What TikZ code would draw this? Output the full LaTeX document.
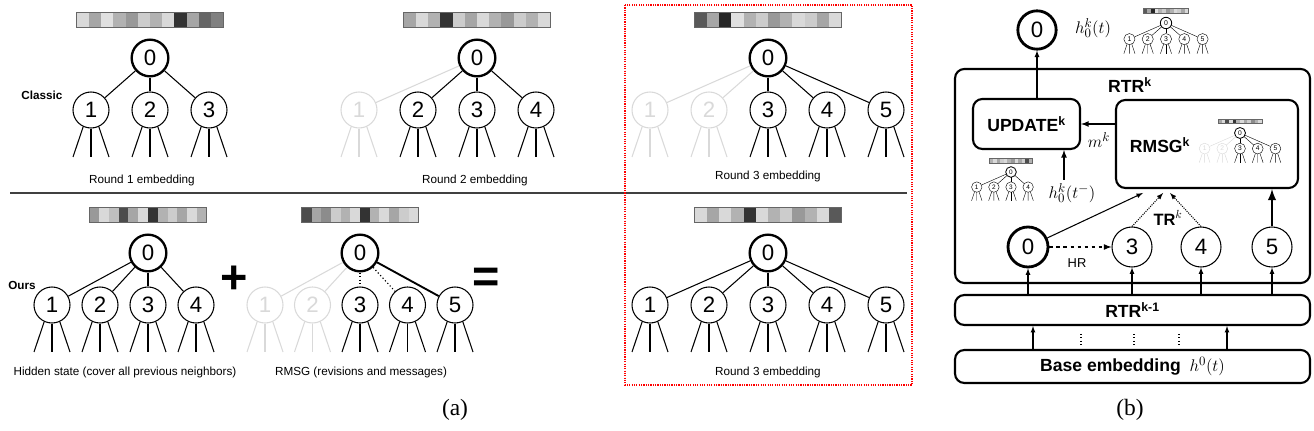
\documentclass[tikz,border=0pt]{standalone}
\usepackage{fontspec}
\setmainfont{Liberation Sans}
\newfontfamily\capfont{Liberation Serif}
\usetikzlibrary{positioning}
\tikzset{
  rootc/.style={circle, draw, line width=2pt, minimum size=1.1cm, inner sep=0pt, font=\fontsize{19}{19}\selectfont},
  childc/.style={circle, draw, line width=0.9pt, minimum size=1.08cm, inner sep=0pt, font=\fontsize{19}{19}\selectfont},
  rbox/.style={draw, rounded corners=8pt, line width=1.8pt, inner sep=0pt},
  captxt/.style={font=\fontsize{10}{12}\selectfont},
  tiny/.style={rootc/.append style={line width=0.7pt}, childc/.append style={line width=0.35pt}, line width=0.35pt},
}
% tree: name, n, faded, root index, edges, spacing, cell width, greys
\newcommand\ctree[8]{%
  \node[rootc] (#1-0) at (0,0) {0};
  \foreach \g [count=\k] in {#8}
    \fill[black!\g] ({(\k-7)*#7},-46) rectangle ++(#7,15);
  \draw[black!60, line width=0.6pt] ({-6*#7},-46) rectangle ++({12*#7},15);
  \foreach \i in {1,...,#2} {
    \pgfmathsetmacro\cx{(\i-#4)*#6}
    \ifnum\i>#3 \def\tc{black}\else\def\tc{black!15}\fi
    \node[childc, draw=\tc, text=\tc] (#1-\i) at (\cx,52) {\i};
    \draw[\tc] (#1-\i.-115) -- (\cx-18,99);
    \draw[\tc] (#1-\i.south) -- (\cx,99);
    \draw[\tc] (#1-\i.-65) -- (\cx+18,99);
    \ifnum\i>#3 \ifnum#5=1 \draw (#1-0) -- (#1-\i); \fi
    \else \draw[black!15] (#1-0) -- (#1-\i); \fi
  }
}
\begin{document}
\begin{tikzpicture}[x=0.03cm, y=-0.03cm, line width=0.9pt]
\useasboundingbox (0,0) rectangle (1314,431);
% (a) classic
\node[font=\bfseries\fontsize{10}{12}\selectfont] (classic) at (42,95) {Classic};
\begin{scope}[shift={(150,58)}]
  \ctree{ta}{3}{0}{2}{1}{59}{12.2}{15,35,12,30,40,20,30,15,80,35,60,50}
\end{scope}
\begin{scope}[shift={(477,58)}]
  \ctree{tb}{4}{1}{3}{1}{59}{12.2}{35,15,30,80,20,35,15,30,40,20,30,15}
\end{scope}
\begin{scope}[shift={(768,58)}]
  \ctree{tc}{5}{2}{3}{1}{59}{12.2}{65,35,85,12,30,20,40,30,15,20,35,15}
\end{scope}
\node[captxt] (r1) at (142,180) {Round 1 embedding};
\node[captxt] (r2) at (475,180) {Round 2 embedding};
\node[captxt] (r3) at (768,176) {Round 3 embedding};
\draw[black!75, line width=1pt] (10,193) -- (907,193);
% (a) ours
\node[font=\bfseries\fontsize{10}{12}\selectfont] (ours) at (22,285) {Ours};
\begin{scope}[shift={(148,253)}]
  \ctree{tm}{4}{0}{3}{1}{48}{9.8}{40,15,25,70,35,15,80,30,20,35,15,30}
\end{scope}
\begin{scope}[shift={(360,253)}]
  \ctree{tn}{5}{2}{3}{0}{47.5}{9.7}{70,35,45,20,30,15,80,30,15,35,20,15}
\end{scope}
\draw[dotted, line width=1pt] (tn-0) -- (tn-3);
\draw[dotted, line width=1pt] (tn-0) -- (tn-4);
\draw[line width=1.6pt] (tn-0) -- (tn-5);
\begin{scope}[shift={(768,253)}]
  \ctree{to}{5}{0}{3}{1}{59}{12.2}{15,35,15,30,80,15,30,20,40,30,15,65}
\end{scope}
\node[font=\bfseries\fontsize{40}{40}\selectfont] (plus) at (234,280) {+};
\node[font=\bfseries\fontsize{40}{40}\selectfont] (eq) at (486,280) {=};
\node[captxt] (hid) at (125,372) {Hidden state (cover all previous neighbors)};
\node[captxt] (rmsgcap) at (361,372) {RMSG (revisions and messages)};
\node[captxt] (r3b) at (768,372) {Round 3 embedding};
\draw[red, densely dotted, line width=1pt] (625,5) rectangle (912,385);
\node[font=\capfont\fontsize{20}{22}\selectfont] (capa) at (455,410) {(a)};
% (b)
\node[rootc, minimum size=1.15cm, line width=2.4pt] (top0) at (1037,30) {0};
\node[font=\fontsize{15}{15}\selectfont] (hk) at (1093,28) {$h_0^k(t)$};
\begin{scope}[shift={(1166,23)}, scale=0.31, transform shape, tiny]
  \ctree{sa}{5}{0}{3}{1}{59}{12.2}{65,35,85,12,30,20,40,30,15,20,35,15}
\end{scope}
\node[rbox, minimum width=10.65cm, minimum height=6.42cm] (rtrk) at (1132.5,176) {};
\node[font=\bfseries\fontsize{15}{15}\selectfont] (rtrklab) at (1130,85) {RTR\textsuperscript{k}};
\node[rbox, minimum width=3.21cm, minimum height=1.5cm, font=\bfseries\fontsize{15}{15}\selectfont] (upd) at (1026.5,124) {UPDATE\textsuperscript{k}};
\node[rbox, minimum width=5.46cm, minimum height=2.64cm] (rmsg) at (1207,144) {};
\node[font=\bfseries\fontsize{15}{15}\selectfont] (rmsglab) at (1160,145) {RMSG\textsuperscript{k}};
\begin{scope}[shift={(1240,133)}, scale=0.3, transform shape, tiny]
  \ctree{sb}{5}{2}{3}{1}{59}{12.2}{35,15,70,15,80,30,15,35,20,45,30,15}
\end{scope}
\begin{scope}[shift={(1011,172)}, scale=0.29, transform shape, tiny]
  \ctree{sc}{4}{0}{3}{1}{59}{12.2}{30,15,35,20,15,30,40,15,35,20,70,30}
\end{scope}
\draw[->, >=latex] (upd.north -| top0) -- (top0);
\draw[->, >=latex, line width=1.2pt] (rmsg.west |- upd.east) -- (upd.east);
\node[font=\fontsize{15}{15}\selectfont] (mk) at (1099,140) {$m^k$};
\node[font=\fontsize{15}{15}\selectfont] (hmin) at (1072,193) {$h_0^k(t^-)$};
\coordinate (hm) at (1064,180);
\draw[->, >=latex, line width=1.2pt] (hm) -- (hm |- upd.south);
\node[rootc, minimum size=1.2cm, line width=2.4pt] (n0) at (1028,247) {0};
\node[childc, minimum size=1.2cm] (n3) at (1132,247) {3};
\node[childc, minimum size=1.2cm] (n4) at (1201,247) {4};
\node[childc, minimum size=1.2cm] (n5) at (1272,247) {5};
\coordinate (e0) at (1143,193);
\coordinate (e3) at (1163,193);
\coordinate (e4) at (1170,193);
\draw[->, >=latex] (n0) -- (e0);
\draw[->, >=latex, densely dotted] (n3.north) -- (e3);
\draw[->, >=latex, densely dotted] (n4.north) -- (e4);
\node[font=\fontsize{14}{14}\selectfont] (tr) at (1168,218) {$\mathbf{TR}^k$};
\draw[->, >=latex, line width=2.2pt] (n5) -- (n5 |- rmsg.south);
\draw[->, >=latex, dashed, line width=1.2pt] (n0) -- (n3);
\node[font=\fontsize{11}{11}\selectfont] (hr) at (1077,263) {HR};
\node[rbox, minimum width=10.65cm, minimum height=0.9cm, font=\bfseries\fontsize{15}{15}\selectfont] (rtr1) at (1132.5,310) {RTR\textsuperscript{k-1}};
\foreach \n in {n0,n3,n4,n5}
  \draw[->, >=latex] (rtr1.north -| \n) -- (\n);
\node[rbox, minimum width=10.65cm, minimum height=0.99cm, font=\bfseries\fontsize{15}{15}\selectfont] (base) at (1132.5,366.5) {Base embedding\enspace$h^0(t)$};
\coordinate (b1) at (1033,350);
\coordinate (b2) at (1227,350);
\draw[->, >=latex] (b1) -- (b1 |- rtr1.south);
\draw[->, >=latex] (b2) -- (b2 |- rtr1.south);
\foreach \x in {1081,1134,1179}
  \draw[dotted] (\x,334) -- (\x,345);
\node[font=\capfont\fontsize{20}{22}\selectfont] (capb) at (1130,410) {(b)};
\end{tikzpicture}
\end{document}
